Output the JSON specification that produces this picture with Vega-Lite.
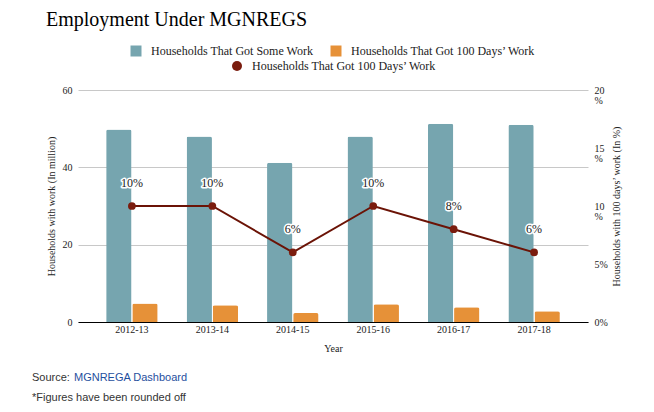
{
  "$schema": "https://vega.github.io/schema/vega-lite/v6.json",
  "background": "white",
  "padding": {"left": 32, "top": 10, "right": 5, "bottom": 5},
  "datasets": {
    "main": [
      {"year": "2012-13", "Households That Got Some Work": 49.8, "Households That Got 100 Days’ Work": 4.8, "pct": 0.10},
      {"year": "2013-14", "Households That Got Some Work": 48.0, "Households That Got 100 Days’ Work": 4.3, "pct": 0.10},
      {"year": "2014-15", "Households That Got Some Work": 41.2, "Households That Got 100 Days’ Work": 2.3, "pct": 0.06},
      {"year": "2015-16", "Households That Got Some Work": 48.0, "Households That Got 100 Days’ Work": 4.6, "pct": 0.10},
      {"year": "2016-17", "Households That Got Some Work": 51.3, "Households That Got 100 Days’ Work": 3.8, "pct": 0.08},
      {"year": "2017-18", "Households That Got Some Work": 51.0, "Households That Got 100 Days’ Work": 2.8, "pct": 0.06}
    ],
    "footer": [
      {"line": 1, "kind": "plain", "text": "Source:"},
      {"line": 1, "kind": "link", "text": "MGNREGA Dashboard"},
      {"line": 2, "kind": "plain", "text": "*Figures have been rounded off"}
    ]
  },
  "vconcat": [
    {
      "title": {"text": "Employment Under MGNREGS", "anchor": "start", "font": "Liberation Serif", "fontSize": 20, "fontWeight": "normal", "color": "#000000", "offset": 15},
      "width": 510,
      "height": 232,
      "data": {"name": "main"},
      "layer": [
        {
          "transform": [{"fold": ["Households That Got Some Work", "Households That Got 100 Days’ Work"], "as": ["series", "value"]}],
          "mark": {"type": "bar", "cornerRadiusTopLeft": 2, "cornerRadiusTopRight": 2},
          "encoding": {
            "x": {
              "field": "year", "type": "nominal", "title": "Year",
              "scale": {"paddingInner": 0.36, "paddingOuter": 0.35},
              "axis": {"labelAngle": 0, "labelFont": "Liberation Serif", "labelFontSize": 10, "labelColor": "#222222", "labelPadding": 2, "ticks": false, "domainColor": "#000000", "domainWidth": 1, "titleFont": "Liberation Serif", "titleFontSize": 10, "titleFontWeight": "normal", "titleColor": "#222222", "titlePadding": 9}
            },
            "xOffset": {"field": "series", "type": "nominal", "sort": ["Households That Got Some Work", "Households That Got 100 Days’ Work"], "scale": {"paddingInner": 0.03}},
            "y": {
              "field": "value", "type": "quantitative", "title": "Households with work (In million)",
              "scale": {"domain": [0, 60]},
              "axis": {"values": [0, 20, 40, 60], "domain": false, "ticks": false, "tickSize": 0, "gridColor": "#c8c8c8", "labelFont": "Liberation Serif", "labelFontSize": 10, "labelColor": "#222222", "labelPadding": 6, "titleFont": "Liberation Serif", "titleFontSize": 10, "titleFontWeight": "normal", "titleColor": "#222222", "titlePadding": 6}
            },
            "fill": {
              "field": "series", "type": "nominal", "title": null,
              "sort": ["Households That Got Some Work", "Households That Got 100 Days’ Work"],
              "scale": {"domain": ["Households That Got Some Work", "Households That Got 100 Days’ Work"], "range": ["#76a5af", "#e69138"]},
              "legend": {"orient": "none", "direction": "horizontal", "legendX": 52, "legendY": -45, "symbolType": "square", "symbolSize": 121, "symbolStrokeWidth": 0, "labelFont": "Liberation Serif", "labelFontSize": 12, "labelColor": "#222222", "labelOffset": 9, "columnPadding": 16, "labelLimit": 400}
            }
          }
        },
        {
          "encoding": {
            "x": {"field": "year", "type": "nominal"},
            "y": {
              "field": "pct", "type": "quantitative", "title": "Households with 100 days’ work (In %)",
              "scale": {"domain": [0, 0.2]},
              "axis": {"orient": "right", "values": [0, 0.05, 0.1, 0.15, 0.2], "grid": false, "domain": false, "ticks": false, "tickSize": 0, "labelExpr": "datum.value >= 0.1 ? [format(datum.value * 100, 'd'), '%'] : format(datum.value, '.0%')", "labelLineHeight": 10, "labelAlign": "left", "labelFont": "Liberation Serif", "labelFontSize": 10, "labelColor": "#222222", "labelPadding": 6, "titleFont": "Liberation Serif", "titleFontSize": 10, "titleFontWeight": "normal", "titleColor": "#222222", "titleAngle": -90, "titlePadding": 14}
            }
          },
          "layer": [
            {"mark": {"type": "line", "color": "#6b1306", "strokeWidth": 2}},
            {
              "mark": {"type": "point", "filled": true, "size": 60, "opacity": 1},
              "encoding": {
                "color": {
                  "datum": "Households That Got 100 Days’ Work",
                  "scale": {"range": ["#7a1c0e"]},
                  "legend": {"orient": "none", "title": null, "legendX": 153, "legendY": -30, "symbolType": "circle", "symbolSize": 100, "symbolStrokeWidth": 0, "labelFont": "Liberation Serif", "labelFontSize": 12, "labelColor": "#222222", "labelOffset": 9, "labelLimit": 400}
                }
              }
            },
            {
              "mark": {"type": "text", "dy": -23, "font": "Liberation Serif", "fontSize": 12, "stroke": "white", "strokeWidth": 3, "strokeJoin": "round", "fill": "white"},
              "encoding": {"text": {"field": "pct", "type": "quantitative", "format": ".0%"}}
            },
            {
              "mark": {"type": "text", "dy": -23, "font": "Liberation Serif", "fontSize": 12, "fill": "#222222"},
              "encoding": {"text": {"field": "pct", "type": "quantitative", "format": ".0%"}}
            }
          ]
        }
      ],
      "resolve": {"scale": {"y": "independent"}}
    },
    {
      "width": 510,
      "height": 20,
      "data": {"name": "footer"},
      "encoding": {
        "y": {"field": "line", "type": "ordinal", "axis": null, "scale": {"type": "point", "padding": 0}},
        "text": {"field": "text"},
        "fill": {"field": "kind", "type": "nominal", "legend": null, "scale": {"domain": ["plain", "link"], "range": ["#333333", "#1f4f9e"]}}
      },
      "layer": [
        {"transform": [{"filter": "datum.kind === 'plain'"}], "mark": {"type": "text", "align": "left", "baseline": "middle", "font": "Liberation Sans", "fontSize": 11, "x": 0, "dx": -46}},
        {"transform": [{"filter": "datum.kind === 'link'"}], "mark": {"type": "text", "align": "left", "baseline": "middle", "font": "Liberation Sans", "fontSize": 11, "x": 0, "dx": -4}}
      ]
    }
  ],
  "resolve": {"scale": {"color": "independent", "fill": "independent"}, "legend": {"color": "independent", "fill": "independent"}},
  "spacing": 19,
  "config": {"view": {"stroke": null}, "font": "Liberation Serif"}
}
